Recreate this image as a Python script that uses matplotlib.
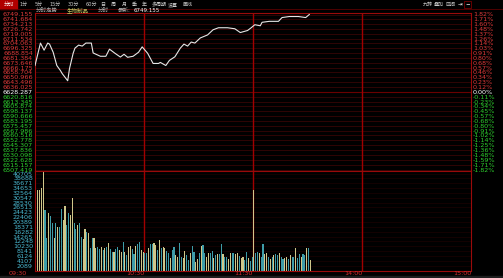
import matplotlib
matplotlib.use('Agg')
import matplotlib.pyplot as plt
import numpy as np
from matplotlib.patches import Rectangle

plt.rcParams['font.family'] = ['DejaVu Sans', 'Noto Sans CJK SC']

# price axis labels (left) and percent labels (right)
price_labels = ['6749.155', '6741.684', '6734.213', '6726.742', '6719.005', '6711.534',
                '6704.063', '6696.325', '6688.854', '6681.384', '6673.646', '6666.175',
                '6658.704', '6650.966', '6643.496', '6636.025', '6628.287', '6620.816',
                '6613.345', '6605.874', '6598.137', '6590.666', '6583.195', '6575.457',
                '6567.986', '6560.516', '6552.778', '6545.307', '6537.836', '6530.098',
                '6522.628', '6515.157', '6507.419']
pct_labels = ['1.82%', '1.71%', '1.60%', '1.48%', '1.37%', '1.26%', '1.14%', '1.03%',
              '0.91%', '0.80%', '0.68%', '0.57%', '0.46%', '0.34%', '0.23%', '0.12%',
              '0.00%', '-0.11%', '-0.23%', '-0.34%', '-0.45%', '-0.57%', '-0.68%',
              '-0.80%', '-0.91%', '-1.02%', '-1.14%', '-1.25%', '-1.36%', '-1.48%',
              '-1.59%', '-1.71%', '-1.82%']
base_price = 6628.287

vol_labels = ['40705', '38688', '36671', '34653', '32564', '30547', '28530', '26513',
              '24423', '22406', '20389', '18371', '16282', '14265', '12248', '10230',
              '8141', '6124', '4107', '2089']

time_ticks = [0, 60, 120, 180, 240]
time_labels = ['09:30', '10:30', '11:30', '14:00', '15:00']

# intraday price (minute index from 09:30, index value)
price_min = [0, 3, 5, 7, 8, 10, 12, 14, 15, 18, 19, 21, 22, 24, 26, 28, 31, 32, 36, 39,
             41, 44, 47, 49, 51, 54, 57, 59, 62, 65, 68, 69, 72, 74, 77, 80, 82, 84, 86, 88,
             91, 95, 98, 101, 106, 110, 113, 117, 119, 121, 124, 125, 129, 134, 136, 140,
             145, 149, 151]
price_val = [6669.6, 6704.6, 6693.5, 6704.6, 6703.0, 6690.3, 6669.6, 6661.7, 6656.9, 6645.8,
             6664.9, 6688.7, 6696.7, 6701.4, 6699.9, 6704.6, 6704.6, 6689.2, 6684.0, 6684.0,
             6695.1, 6688.7, 6682.8, 6687.1, 6682.4, 6684.0, 6690.3, 6698.7, 6688.7, 6672.8,
             6672.8, 6674.4, 6669.6, 6677.6, 6683.2, 6696.7, 6703.0, 6699.9, 6706.2, 6704.6,
             6712.6, 6717.3, 6725.3, 6728.5, 6728.5, 6726.9, 6721.0, 6724.2, 6728.5, 6733.2,
             6731.6, 6737.0, 6738.5, 6738.5, 6744.4, 6746.0, 6746.0, 6744.4, 6749.155]

# per-minute volume
volume = [38700, 34000, 33800, 34650, 41500, 25400, 13650, 24150, 22900, 19950,
          13650, 19950, 18270, 18270, 25830, 21210, 27090, 19110, 24150, 23310,
          30450, 19950, 17430, 19110, 20070, 14200, 13100, 17300, 16300, 15900,
          9300, 13500, 13500, 9300, 10000, 8900, 9700, 8600, 9300, 10000,
          11700, 8900, 7900, 7900, 8900, 9700, 8600, 7900, 12100, 7900,
          6500, 10000, 10300, 8900, 6900, 10300, 11100, 12100, 8600, 7900,
          7200, 7200, 9300, 11100,
          11130, 11410, 10710, 8610, 12810, 9310, 10010, 9310, 8330, 7490,
          5110, 8610, 9730, 6510, 5810, 11690, 5810, 5110, 8330, 6510,
          4410, 7490, 10290, 7910, 3710, 4690, 7210, 10290, 10710, 7210,
          5810, 7490, 7490, 8330, 5110, 6510, 6930, 6930, 11130, 6930,
          5530, 5810, 4690, 7210, 7490, 7210, 6930, 7210, 6090, 5110,
          5810, 4410, 7910, 5110, 4130, 5810,
          34000,
          7490, 7910, 7490, 5530, 11130, 6930, 7490, 5810, 4690, 5810,
          6510, 6930, 6510, 7210, 5810, 4690, 5110, 5530, 4690, 6510,
          5530, 5810, 9310, 5110, 6930, 5810, 6930, 6510, 9310, 9310,
          4410]
# u = up minute, d = down minute
vol_dir = ("uuuuuddudd" "ududduuddu" "uddudduudu" "dduuddudud" "uddudduudu"
           "duuddudduu" "ddudduudud" "uuddudduud" "duuddudduu" "dudduuddud"
           "uddudduudd" "uuduuddudd" "uddudduudu" "duddudduud" "uddudduddu" "du")

W, H = 503, 278
fig = plt.figure(figsize=(W / 100, H / 100), dpi=100, facecolor='black')


def box(x0, y0, x1, y1):
    return [x0 / W, 1 - y1 / H, (x1 - x0) / W, (y1 - y0) / H]


RED_LINE = '#9a0a0a'
DIM = '#360505'

ax_p = fig.add_axes(box(35, 13, 471, 171))
ax_v = fig.add_axes(box(35, 171, 471, 270.5), sharex=ax_p)

ticks = [float(s) for s in price_labels]
pad = 1.5 * (ticks[0] - ticks[-1]) / 155
for ax in (ax_p, ax_v):
    ax.set_facecolor('black')
    for sp in ax.spines.values():
        sp.set_color(RED_LINE)
        sp.set_linewidth(0.8)
    for t in time_ticks[1:-1]:
        ax.axvline(t, color='#a00000', lw=1.0, zorder=1)
ax_p.set_xlim(0, 240)
ax_p.set_ylim(ticks[-1] - pad, ticks[0] + pad)
for t in ticks:
    ax_p.axhline(t, color=DIM, lw=0.6, zorder=0)
ax_p.axhline(base_price, color='#6a0000', lw=0.8, zorder=0)

ax_p.plot(price_min, price_val, color='#e6e6e6', lw=0.8, zorder=3)

# left price labels
ax_p.set_yticks(ticks, price_labels)
ax_p.tick_params(axis='y', length=0, pad=1.5, labelsize=4.6)
ax_p.tick_params(axis='x', length=0, labelbottom=False)
for lab, v in zip(ax_p.get_yticklabels(), ticks):
    lab.set_color('#e03a3a' if v > base_price else ('white' if v == base_price else '#2ed02e'))

# right percent labels
ax_r = ax_p.twinx()
ax_r.set_ylim(ax_p.get_ylim())
ax_r.set_yticks(ticks, pct_labels)
ax_r.tick_params(axis='y', length=0, pad=1.5, labelsize=4.6)
for sp in ax_r.spines.values():
    sp.set_visible(False)
for lab, v in zip(ax_r.get_yticklabels(), ticks):
    lab.set_color('#e03a3a' if v > base_price else ('white' if v == base_price else '#2ed02e'))

# volume panel
vticks = [float(s) for s in vol_labels]
ax_v.set_ylim(0, 41790)
for t in vticks:
    ax_v.axhline(t, color='#1c0202', lw=0.5, zorder=0)
minutes = np.arange(len(volume)) + 0.5
colors = ['#cfc68a' if c == 'u' else '#3e9ca8' for c in vol_dir]
ax_v.bar(minutes, volume, width=0.6, color=colors, zorder=2)
ax_v.set_yticks(vticks, vol_labels)
ax_v.tick_params(axis='y', length=0, pad=1.5, labelsize=4.6, labelcolor='#4ab8d0')
ax_v.tick_params(axis='x', length=0, labelbottom=False)
for t, lab in zip(time_ticks, time_labels):
    off = -8 if t == 0 else 0
    ax_v.annotate(lab, xy=(t, 0), xycoords=ax_v.get_xaxis_transform(),
                  xytext=(off * 0.72, -2.2), textcoords='offset points',
                  ha='right', va='center', fontsize=4.6, color='#d03030')

# top menu bar
fig.patches.append(Rectangle((0, 1 - 8.5 / H), 17 / W, 8.5 / H, transform=fig.transFigure,
                             color='#b00000', zorder=0))
fig.add_artist(plt.Line2D([0, 1], [1 - 8.8 / H] * 2, color='#5a0000', lw=0.6))
fig.text(8.5 / W, 1 - 4.3 / H, '分时', color='white', fontsize=3.8, ha='center', va='center')
menu = [(20, '1分'), (35, '5分'), (50, '15分'), (68, '30分'), (86, '60分'), (100, '日'),
        (111, '周'), (122, '月'), (132, '季'), (142, '年'), (152, '多周期'), (168, '设置'),
        (183, '画线'), (423, '九转'), (434, '叠加'), (446, '区间')]
for x, s in menu:
    fig.text(x / W, 1 - 4.3 / H, s, color='#c8c8c8', fontsize=3.6, ha='left', va='center')
fig.text(458 / W, 1 - 4.3 / H, '⇥', color='white', fontsize=4, ha='left', va='center')
fig.patches.append(Rectangle((464 / W, 1 - 8 / H), 7 / W, 7 / H, transform=fig.transFigure,
                             fill=False, edgecolor='#8a0000', lw=0.5))
fig.text(467.5 / W, 1 - 4.3 / H, '−', color='white', fontsize=4, ha='center', va='center')

# header line
header = [(36, '分时走势', '#b0b0b0'), (67, '生物制品', '#c8c864'), (98, '分时', '#b0b0b0'),
          (118, '最新:', '#b0b0b0'), (134, '6749.155', 'white')]
for x, s, c in header:
    fig.text(x / W, 1 - 10.8 / H, s, color=c, fontsize=4.0, ha='left', va='center')

fig.patches.append(Rectangle((0, 0), 1, 2.5 / H, transform=fig.transFigure,
                             color='#1e1e1e', zorder=0))

fig.savefig('out.png', dpi=100, facecolor='black')
